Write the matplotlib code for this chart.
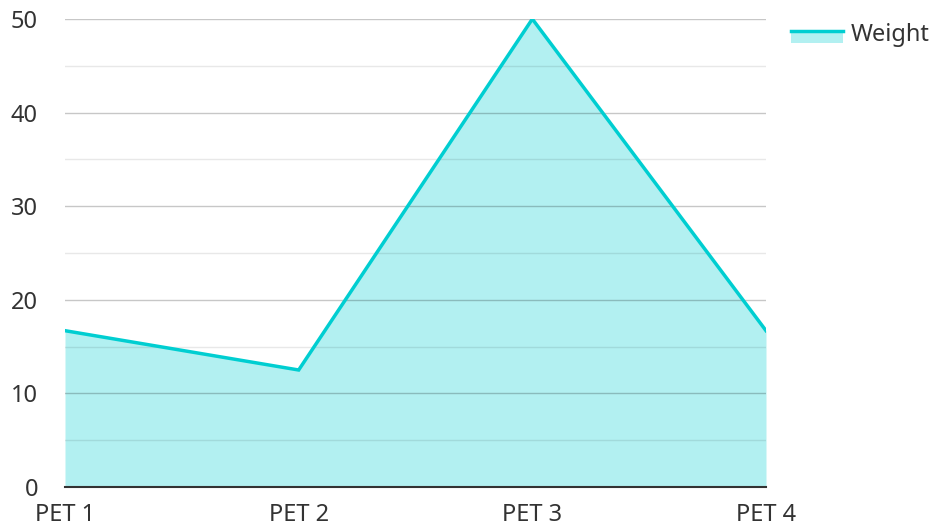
import matplotlib
matplotlib.use("Agg")
import matplotlib.pyplot as plt
from matplotlib.legend_handler import HandlerBase
from matplotlib.patches import Rectangle
from matplotlib.lines import Line2D

categories = ["PET 1", "PET 2", "PET 3", "PET 4"]
weight = [16.7, 12.5, 50, 16.7]
yticks = [0, 10, 20, 30, 40, 50]
yminor = [5, 15, 25, 35, 45]

LINE = "#00CED1"
FILL = (0, 206 / 255, 209 / 255, 0.3)
FS = 17

plt.rcParams["font.family"] = ["Noto Sans", "DejaVu Sans"]

fig = plt.figure(figsize=(9.37, 5.26), dpi=100)
ax = fig.add_axes([65 / 937, 1 - 487 / 526, (766 - 65) / 937, (487 - 19) / 526])

x = list(range(len(categories)))
ax.fill_between(x, weight, 0, color=FILL, linewidth=0, zorder=1)
ax.plot(x, weight, color=LINE, linewidth=2.5, zorder=3, solid_joinstyle="miter")

ax.set_xlim(0, len(categories) - 1)
ax.set_ylim(0, 50)
ax.set_yticks(yticks)
ax.set_yticks(yminor, minor=True)
ax.set_xticks(x)
ax.set_xticklabels(categories)

ax.grid(axis="y", which="major", color="black", alpha=0.22, linewidth=1, zorder=2)
ax.grid(axis="y", which="minor", color="black", alpha=0.09, linewidth=1, zorder=2)
ax.set_axisbelow(False)
for s in ["top", "right", "left"]:
    ax.spines[s].set_visible(False)
ax.spines["bottom"].set_color("#333333")
ax.spines["bottom"].set_linewidth(1.5)
ax.spines["bottom"].set_zorder(4)

ax.tick_params(axis="both", which="both", length=0, labelsize=FS, labelcolor="#333333")
ax.tick_params(axis="y", pad=19.5)
ax.tick_params(axis="x", pad=11.5)


class AreaHandler(HandlerBase):
    def create_artists(self, legend, orig_handle, xdescent, ydescent, width, height, fontsize, trans):
        r = Rectangle((-xdescent, -ydescent - height * 0.1), width, height * 0.7,
                      facecolor=FILL, edgecolor="none", transform=trans)
        l = Line2D([-xdescent, -xdescent + width], [-ydescent + height * 0.6] * 2,
                   color=LINE, linewidth=2.5, transform=trans)
        return [r, l]


handle = Rectangle((0, 0), 1, 1)
leg = fig.legend([handle], ["Weight"], handler_map={Rectangle: AreaHandler()},
                 loc="upper left", bbox_to_anchor=(791 / 937, 1 - 23 / 526),
                 frameon=False, fontsize=FS, handlelength=2.2, handletextpad=0.35,
                 borderaxespad=0, borderpad=0)
for t in leg.get_texts():
    t.set_color("#333333")

fig.savefig("out.png", dpi=100)
